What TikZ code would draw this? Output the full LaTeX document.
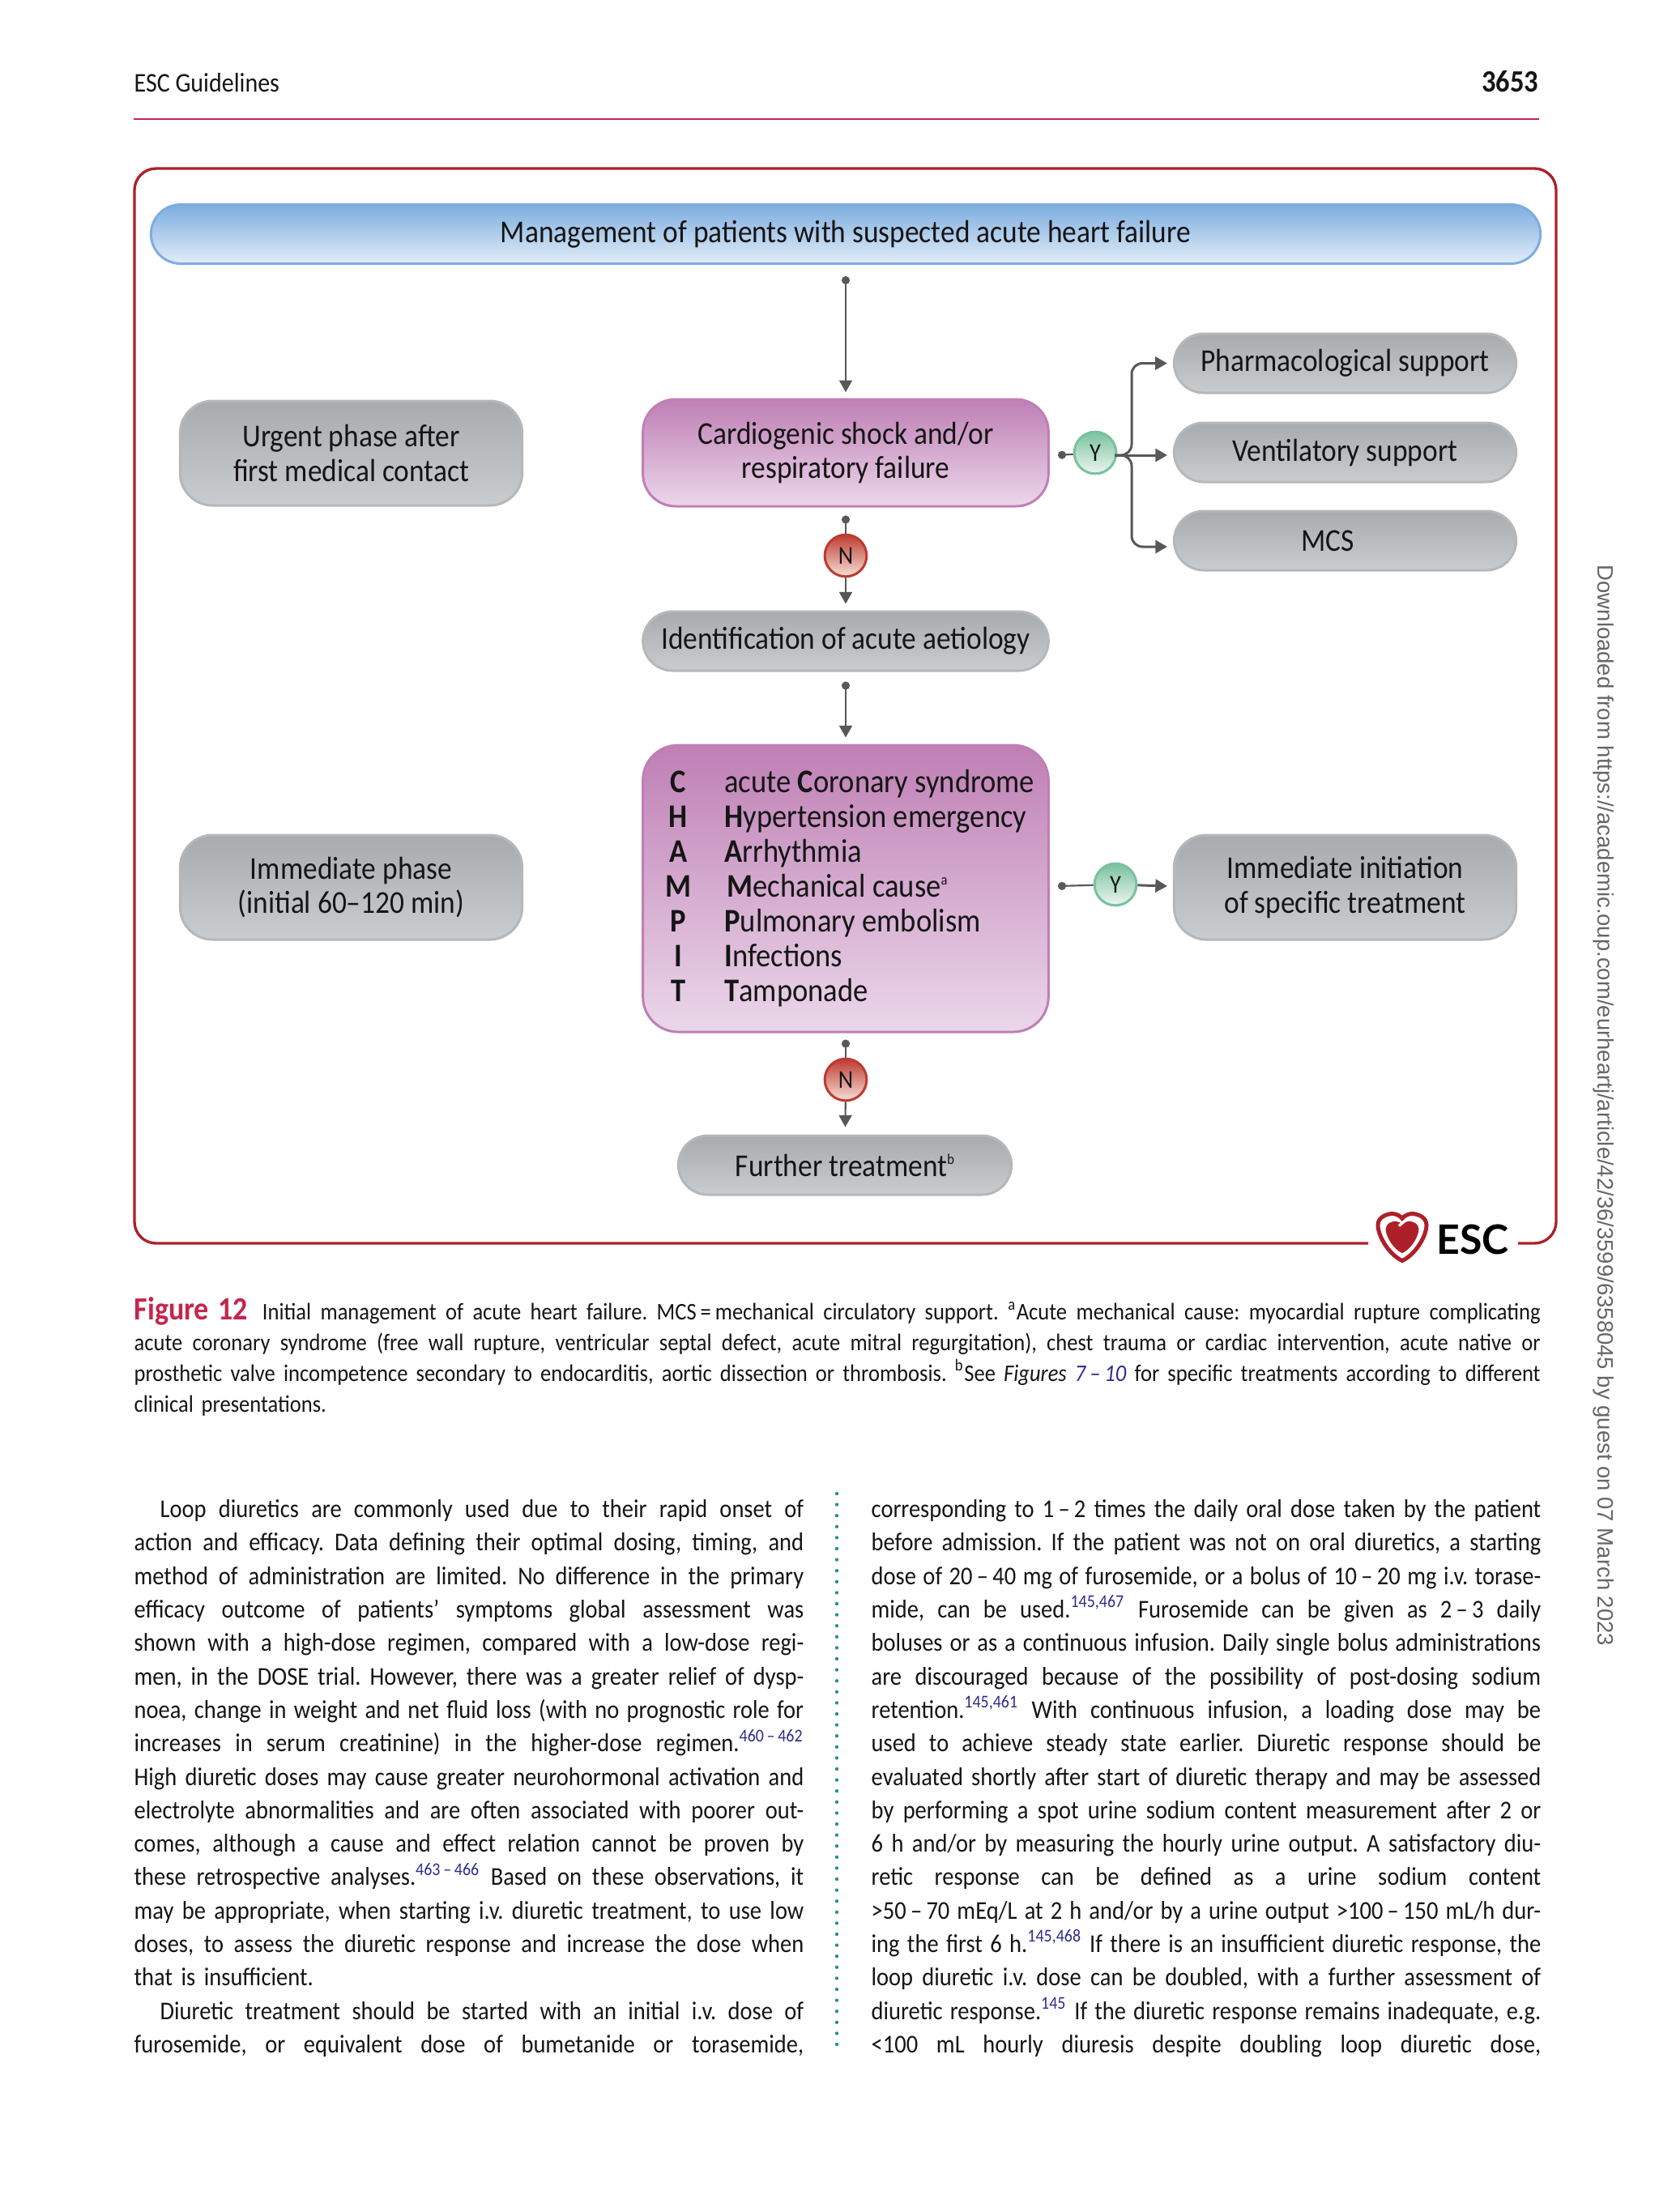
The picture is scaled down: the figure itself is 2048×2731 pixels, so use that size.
\documentclass[tikz,border=0pt]{standalone}
\usepackage{fontspec}
\usepackage{tikz}
\usetikzlibrary{arrows.meta}
\setmainfont[FakeStretch=0.9]{Carlito}
\newfontfamily\sidefont{Liberation Sans}
\newfontfamily\logofont{Lato}
\definecolor{inktext}{HTML}{151515}
\definecolor{crimson}{HTML}{C4264E}
\definecolor{framered}{HTML}{AE2029}
\definecolor{citeblue}{HTML}{2E2D8C}
\definecolor{teal}{HTML}{2B8C92}
\definecolor{linegray}{HTML}{585858}
\definecolor{graya}{HTML}{A8ABAE}
\definecolor{grayb}{HTML}{CACDCF}
\definecolor{grayedge}{HTML}{B5B7B9}
\definecolor{purplea}{HTML}{BF7FB5}
\definecolor{purpleb}{HTML}{EBD7EA}
\definecolor{greena}{HTML}{79C29E}
\definecolor{greenb}{HTML}{EDF6F1}
\definecolor{reda}{HTML}{BE3B30}
\definecolor{redb}{HTML}{F6E0D8}
\definecolor{bluea}{HTML}{7DADDF}
\definecolor{blueb}{HTML}{E2EDF8}
\newcommand{\wordgap}{\spaceskip=0.21em plus 1em minus 0.09em\relax}
\newcommand{\colline}[1]{\hbox to 248pt{\wordgap #1}}
\newcommand{\capline}[1]{\hbox to 520.8pt{\wordgap #1}}
\newcommand{\refcite}[1]{\textcolor{citeblue}{\textsuperscript{#1}}}
\newcommand{\boxsup}[1]{\raisebox{4.6pt}{\fontsize{5.5}{6}\selectfont #1}}
\newcommand{\champ}[2]{\hbox{\makebox[13.8pt]{\bfseries #1}\hspace{10.2pt}#2}}
\newcommand{\heartshape}{(0,29) .. controls (-17,21) and (-30,-2) .. (-30,-15) .. controls (-30,-25) and (-19,-29) .. (-12,-29) .. controls (-7,-29) and (-2,-26) .. (0,-23) .. controls (2,-26) and (7,-29) .. (12,-29) .. controls (19,-29) and (30,-25) .. (30,-15) .. controls (30,-2) and (17,21) .. (0,29) -- cycle}
\tikzset{
  box/.style={rounded corners=12pt,line width=0.9pt,inner sep=0pt,align=center,text=inktext,font=\fontsize{11.8}{12.7}\selectfont},
  graybox/.style={box,draw=grayedge,top color=graya,bottom color=grayb},
  pillbox/.style={graybox,rounded corners=11pt},
  pinkbox/.style={box,draw=purplea,top color=purplea,bottom color=purpleb},
  badge/.style={circle,minimum size=15.5pt,inner sep=0pt,line width=0.9pt,text=inktext,font=\fontsize{9.5}{10}\selectfont},
  ybadge/.style={badge,draw=greena,top color=greena,bottom color=greenb},
  nbadge/.style={badge,draw=reda,top color=reda,bottom color=redb},
  flow/.style={linegray,line width=0.65pt,{Circle[length=3pt]}-{Triangle[length=4.4pt,width=4.8pt]}},
  stub/.style={linegray,line width=0.65pt,{Circle[length=3pt]}-},
  feed/.style={linegray,line width=0.65pt,-{Triangle[length=4.4pt,width=4.8pt]}},
  column/.style={anchor=north west,inner sep=0pt,text width=248pt,text=inktext,font=\frenchspacing\fontsize{9.5}{12.39}\selectfont},
}
\begin{document}
\begin{tikzpicture}[x=0.3pt,y=-0.3pt]
  \useasboundingbox (0,0) rectangle (2048,2731);
  \fill[white] (0,0) rectangle (2048,2731);
  % running head
  \node[anchor=base west,inner sep=0pt,text=inktext,font=\fontsize{10}{12}\selectfont] (head) at (165,113) {ESC Guidelines};
  \node[anchor=base east,inner sep=0pt,text=inktext,font=\fontsize{11.5}{12}\selectfont\bfseries] (page) at (1900,113) {3653};
  \draw[crimson,line width=0.6pt] (165,147) -- (1900,147);
  % frame of the figure
  \draw[framered,line width=1pt,rounded corners=8pt] (1689,1535) -- (166,1535) -- (166,208) -- (1921,208) -- (1921,1535) -- (1874,1535);
  \begin{scope}[shift={(1731,1527.5)}]
    \draw[framered,line width=1.5pt] \heartshape;
    \fill[framered,scale=0.68] \heartshape;
    \draw[white,line width=1pt] (-4,-14) -- (3,-20);
  \end{scope}
  \node[anchor=base west,inner sep=0pt,text=black,font=\logofont\bfseries\fontsize{15}{16}\selectfont] (esc) at (1773,1548) {ESC};
  % flow chart
  \node[box,draw=bluea,top color=bluea,bottom color=blueb,rounded corners=11pt,minimum width=514.6pt,minimum height=21.9pt] (mgmt) at (1044,289) {Management of patients with suspected acute heart failure};
  \node[graybox,minimum width=126.7pt,minimum height=38.7pt] (urgent) at (433.5,559.5) {Urgent phase after\\first medical contact};
  \node[pinkbox,minimum width=150.2pt,minimum height=39.6pt] (shock) at (1044,559) {Cardiogenic shock and/or\\respiratory failure};
  \node[pillbox,minimum width=126.7pt,minimum height=21.9pt] (pharma) at (1660.5,448.5) {Pharmacological support};
  \node[pillbox,minimum width=126.7pt,minimum height=21.9pt] (vent) at (1660.5,558.5) {Ventilatory support};
  \node[pillbox,minimum width=126.7pt,minimum height=21.9pt] (mcs) at (1660.5,667.5) {MCS\hspace{13pt}};
  \node[ybadge] (yshock) at (1352,559) {Y};
  \node[nbadge] (nshock) at (1044,686) {N};
  \node[pillbox,minimum width=150.2pt,minimum height=21.9pt] (ident) at (1044,791.5) {Identification of acute aetiology};
  \node[pinkbox,rounded corners=13pt,minimum width=150.2pt,minimum height=106.2pt,text width=137.8pt,align=none,font=\fontsize{12.2}{12.9}\selectfont] (champit) at (1044,1097) {%
    \champ{C}{acute \textbf{C}oronary syndrome}
    \champ{H}{\textbf{H}ypertension emergency}
    \champ{A}{\textbf{A}rrhythmia}
    \champ{M}{\hspace{1pt}\textbf{M}echanical cause\boxsup{a}}
    \champ{P}{\textbf{P}ulmonary embolism}
    \champ{I}{\textbf{I}nfections}
    \champ{T}{\textbf{T}amponade}};
  \node[graybox,minimum width=126.7pt,minimum height=38.7pt] (immediate) at (433.5,1095.5) {Immediate phase\\(initial 60--120 min)};
  \node[graybox,minimum width=126.7pt,minimum height=38.7pt] (initiation) at (1660.5,1095.5) {Immediate initiation\\of specific treatment};
  \node[ybadge] (ychamp) at (1377,1092) {Y};
  \node[nbadge] (nchamp) at (1044,1333) {N};
  \node[pillbox,minimum width=123.4pt,minimum height=21.9pt] (further) at (1043,1438.5) {Further treatment\boxsup{b}};
  % connectors
  \coordinate (ydot) at (1306,562);
  \coordinate (yfork) at (1376,562);
  \coordinate (ytrunk) at (1397,562);
  \coordinate (vtip) at (1441,562);
  \coordinate (mtip) at (1441,675);
  \coordinate (zdot) at (1306,1094);
  \coordinate (ztip) at (1441,1094);
  \draw[flow,shorten <=4.2pt,shorten >=2.2pt] (mgmt) -- (shock);
  \draw[stub,shorten <=3pt] (shock.south) -- (nshock);
  \draw[feed,shorten >=2.4pt] (nshock) -- (ident);
  \draw[flow,shorten <=3.6pt,shorten >=2.4pt] (ident) -- (champit);
  \draw[stub,shorten <=2.4pt] (champit.south) -- (nchamp);
  \draw[feed,shorten >=2.7pt] (nchamp) -- (further);
  \draw[stub] (ydot) -- (yshock);
  \draw[stub] (zdot) -- (ychamp);
  \draw[feed,line width=0.9pt] (yfork) -- (vtip);
  \draw[feed,line width=0.9pt,rounded corners=4pt] (yfork) -- (ytrunk) |- ([xshift=-2.1pt]pharma.west);
  \draw[feed,line width=0.9pt,rounded corners=4pt] (yfork) -- (ytrunk) |- (mtip);
  \draw[feed,line width=0.9pt] (ychamp) -- (ztip);
  % caption
  \node[anchor=north west,inner sep=0pt,text width=520.8pt,text=inktext,font=\frenchspacing\fontsize{8.85}{11.35}\selectfont] (caption) at (165,1601) {%
    \capline{\textcolor{crimson}{\bfseries\fontsize{12}{11.35}\selectfont Figure 12}\hspace{2pt} Initial management of acute heart failure. MCS\,=\,mechanical circulatory support. \textsuperscript{a}Acute mechanical cause: myocardial rupture complicating}
    \capline{acute coronary syndrome (free wall rupture, ventricular septal defect, acute mitral regurgitation), chest trauma or cardiac intervention, acute native or}
    \capline{prosthetic valve incompetence secondary to endocarditis, aortic dissection or thrombosis. \textsuperscript{b}See \emph{Figures} \textcolor{citeblue}{\emph{7\,--\,10}} for specific treatments according to different}
    \hbox{clinical presentations.}};
  % body text
  \node[column] (left) at (165,1851) {%
    \colline{\hspace*{9.6pt}Loop diuretics are commonly used due to their rapid onset of}
    \colline{action and efficacy. Data defining their optimal dosing, timing, and}
    \colline{method of administration are limited. No difference in the primary}
    \colline{efficacy outcome of patients' symptoms global assessment was}
    \colline{shown with a high-dose regimen, compared with a low-dose regi-}
    \colline{men, in the DOSE trial. However, there was a greater relief of dysp-}
    \colline{noea, change in weight and net fluid loss (with no prognostic role for}
    \colline{increases in serum creatinine) in the higher-dose regimen.\refcite{460\,--\,462}}
    \colline{High diuretic doses may cause greater neurohormonal activation and}
    \colline{electrolyte abnormalities and are often associated with poorer out-}
    \colline{comes, although a cause and effect relation cannot be proven by}
    \colline{these retrospective analyses.\refcite{463\,--\,466} Based on these observations, it}
    \colline{may be appropriate, when starting i.v. diuretic treatment, to use low}
    \colline{doses, to assess the diuretic response and increase the dose when}
    \hbox{that is insufficient.}
    \colline{\hspace*{9.6pt}Diuretic treatment should be started with an initial i.v. dose of}
    \colline{furosemide, or equivalent dose of bumetanide or torasemide,}};
  \node[column] (right) at (1075,1851) {%
    \colline{corresponding to 1\,--\,2 times the daily oral dose taken by the patient}
    \colline{before admission. If the patient was not on oral diuretics, a starting}
    \colline{dose of 20\,--\,40 mg of furosemide, or a bolus of 10\,--\,20 mg i.v. torase-}
    \colline{mide, can be used.\refcite{145,467} Furosemide can be given as 2\,--\,3 daily}
    \colline{boluses or as a continuous infusion. Daily single bolus administrations}
    \colline{are discouraged because of the possibility of post-dosing sodium}
    \colline{retention.\refcite{145,461} With continuous infusion, a loading dose may be}
    \colline{used to achieve steady state earlier. Diuretic response should be}
    \colline{evaluated shortly after start of diuretic therapy and may be assessed}
    \colline{by performing a spot urine sodium content measurement after 2 or}
    \colline{6 h and/or by measuring the hourly urine output. A satisfactory diu-}
    \colline{retic response can be defined as a urine sodium content}
    \colline{>50\,--\,70 mEq/L at 2 h and/or by a urine output >100\,--\,150 mL/h dur-}
    \colline{ing the first 6 h.\refcite{145,468} If there is an insufficient diuretic response, the}
    \colline{loop diuretic i.v. dose can be doubled, with a further assessment of}
    \colline{diuretic response.\refcite{145} If the diuretic response remains inadequate, e.g.}
    \colline{<100 mL hourly diuresis despite doubling loop diuretic dose,}};
  \draw[teal,line width=1.3pt,line cap=round,dash pattern=on 0pt off 4.08pt] (1033,1844) -- (1033,2537);
  % download note
  \node[rotate=-90,inner sep=0pt,text=black!60,font=\sidefont\fontsize{8.25}{10}\selectfont] (note) at (1980,1365) {Downloaded from https://academic.oup.com/eurheartj/article/42/36/3599/6358045 by guest on 07 March 2023};
\end{tikzpicture}
\end{document}
